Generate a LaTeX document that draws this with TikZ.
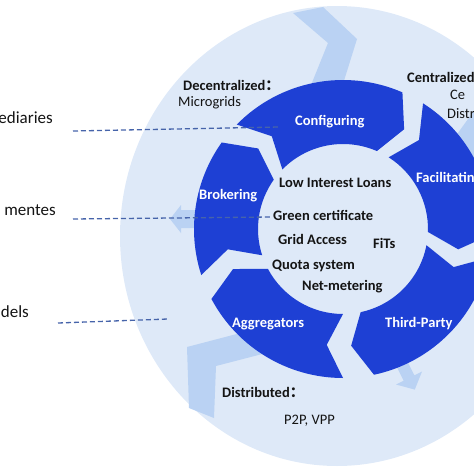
\documentclass[tikz,border=0pt]{standalone}
\usepackage{fontspec}
\setmainfont{Carlito}
\newfontfamily\cjk{Noto Sans CJK SC}
\definecolor{bgc}{RGB}{222,233,248}
\definecolor{lightarr}{RGB}{186,210,243}
\definecolor{ringc}{RGB}{30,64,212}
\definecolor{txt}{RGB}{20,20,20}
\definecolor{dashc}{RGB}{70,100,170}
\begin{document}
\begin{tikzpicture}[x=1pt,y=1pt,
  reg/.style={inner sep=0pt, anchor=base west, text=txt, font=\fontsize{14.5}{17}\selectfont},
  bl/.style={inner sep=0pt, anchor=base west, text=txt, font=\fontsize{14.5}{17}\selectfont\bfseries},
  wl/.style={bl, text=white},
  side/.style={inner sep=0pt, anchor=base east, text=txt, font=\fontsize{17}{20}\selectfont},
  dashline/.style={draw=dashc, line width=1.3pt, dash pattern=on 5pt off 3pt},
  ringfill/.style={fill=ringc},
  arrfill/.style={fill=lightarr}]
\useasboundingbox (0,0) rectangle (474,-474);
\clip (0,0) rectangle (474,-474);
% background disc
\fill[bgc] (337,-236) ellipse [x radius=217, y radius=230];
% light background arrows
\fill[arrfill] (293,-13) -- (323,-7) -- (357,-39) -- (338,-100) -- (305,-100) -- (328,-43) -- cycle;
\fill[arrfill] (170,-219) -- (181,-205) -- (181,-210) -- (205,-210) -- (205,-228) -- (181,-228) -- (181,-233) -- cycle;
\fill[arrfill] (187,-347) -- (252,-330) -- (270,-352) -- (216,-366) -- (214,-418) -- (189,-408) -- cycle;
\fill[arrfill] (392.4,-358.3) -- (403.6,-380.7) -- (396,-384.5) -- (414.8,-389.6) -- (422,-371.5) -- (414.4,-375.3) -- (403.2,-353) -- cycle;
\fill[arrfill] (476,-108) -- (455,-137) -- (476,-165) -- cycle;
% ring segments
\begin{scope}[shift={(343,-229)}]
\foreach \A/\B in {135.5/66.5, 57.5/-2, -11/-78, -90/-152, 198/144.5} {
  \pgfmathsetmacro\Bt{\B-8}
  \pgfmathsetmacro\An{\A-8}
  \fill[ringfill] (\A:149) arc[start angle=\A, end angle=\B, radius=149]
     -- (\Bt:117) -- (\B:85) arc[start angle=\B, end angle=\A, radius=85]
     -- (\An:117) -- cycle;
}
\end{scope}
% segment labels
\node[wl] (conf) at (295,-125) {Configuring};
\node[wl] (fac) at (416,-182) {Facilitating};
\node[wl] (tp) at (385,-327) {Third-Party};
\node[wl] (agg) at (232,-327) {Aggregators};
\node[wl] (brok) at (199,-199) {Brokering};
% inner labels
\node[bl] (loans) at (279,-187) {Low Interest Loans};
\node[bl] (green) at (273,-220) {Green certificate};
\node[bl] (grid) at (278,-244) {Grid Access};
\node[bl] (fits) at (373,-248) {FiTs};
\node[bl] (quota) at (272,-269) {Quota system};
\node[bl] (net) at (302,-290) {Net-metering};
% outer labels
\node[bl] (dec) at (183,-90) {Decentralized{\cjk ：}};
\node[reg] (micro) at (178,-106) {Microgrids};
\node[bl] (cen) at (407,-82) {Centralized{\cjk ：}};
\node[reg] (ce) at (450,-99) {Ce};
\node[reg] (distr) at (447,-118) {Distr};
\node[bl] (dist) at (222,-397) {Distributed{\cjk ：}};
\node[reg] (p2p) at (284,-424) {P2P, VPP};
% left labels
\node[side] (inter) at (53,-123) {ediaries};
\node[side] (instr) at (56,-215) {mentes};
\node[side] (mod) at (29,-317) {dels};
% dashed lines
\coordinate (d1a) at (73,-131);
\coordinate (d1b) at (279,-127);
\coordinate (d2a) at (73,-219);
\coordinate (d2b) at (271,-217);
\coordinate (d3a) at (58,-323);
\coordinate (d3b) at (168,-319);
\draw[dashline] (d1a) -- (d1b);
\draw[dashline] (d2a) -- (d2b);
\draw[dashline] (d3a) -- (d3b);
\end{tikzpicture}
\end{document}
